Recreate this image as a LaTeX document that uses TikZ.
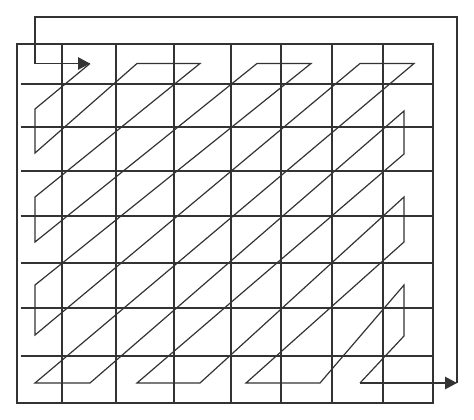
\documentclass[tikz,border=0pt]{standalone}
\usetikzlibrary{arrows.meta}
\definecolor{ink}{HTML}{333333}
\begin{document}
\begin{tikzpicture}[x=1pt,y=-1pt,
  gridline/.style={draw=ink,line width=1.5pt},
  scanline/.style={draw=ink,line width=1.2pt,line join=miter},
  scanarrow/.style={scanline,-{Triangle[length=12pt,width=12.5pt]}}]
\useasboundingbox (0,0) rectangle (474,420);
% grid
\draw[gridline] (17,44) rectangle (433,403);
\foreach \x in {62,116,174,231,281,332,383}
  \draw[gridline] (\x,44) -- (\x,403);
\foreach \y in {84,127,171,216,263,308,356}
  \draw[gridline] (20.5,\y) -- (433,\y);
% vertices of the scan
\coordinate (t0) at (35,63.5);
\coordinate (t1) at (90,63.5);
\coordinate (t2) at (137,63.5);
\coordinate (t3) at (200,63.5);
\coordinate (t4) at (257,63.5);
\coordinate (t5) at (311,63.5);
\coordinate (t6) at (360,63.5);
\coordinate (t7) at (414,63.5);
\coordinate (l1) at (35,109);
\coordinate (l2) at (35,153);
\coordinate (l3) at (35,197);
\coordinate (l4) at (35,242);
\coordinate (l5) at (35,285);
\coordinate (l6) at (35,335);
\coordinate (l7) at (35,383);
\coordinate (b1) at (90,383);
\coordinate (b2) at (137,383);
\coordinate (b3) at (200,383);
\coordinate (b4) at (246,383);
\coordinate (b5) at (320,383);
\coordinate (b6) at (360,383);
\coordinate (bend) at (457,383);
\coordinate (r1) at (404,111);
\coordinate (r2) at (404,154);
\coordinate (r3) at (404,197);
\coordinate (r4) at (404,242);
\coordinate (r5) at (404,285);
\coordinate (r6) at (404,336);
\coordinate (lt) at (35,17);
\coordinate (rt) at (457,17);
% return loop
\draw[scanarrow] (bend) -- (rt) -- (lt) -- (t0) -- (t1);
% zigzag scan
\draw[scanline] (t1) -- (l1) -- (l2) -- (t2) -- (t3) -- (l3) -- (l4)
  -- (t4) -- (t5) -- (l5) -- (l6) -- (t6) -- (t7) -- (l7) -- (b1)
  -- (r1) -- (r2) -- (b2) -- (b3) -- (r3) -- (r4) -- (b4) -- (b5)
  -- (r5) -- (r6) -- (b6);
\draw[scanarrow] (b6) -- (bend);
\end{tikzpicture}
\end{document}
